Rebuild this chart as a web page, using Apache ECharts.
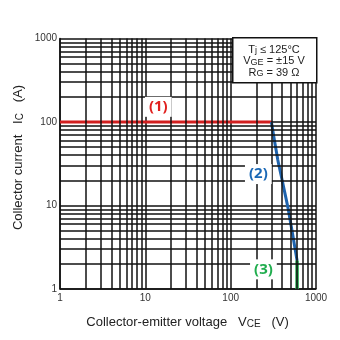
<!DOCTYPE html>
<html>
<head>
<meta charset="utf-8">
<script src="https://cdn.jsdelivr.net/npm/echarts@6/dist/echarts.min.js"></script>
<style>
  html, body { margin: 0; padding: 0; background: #fff; }
  #chart { width: 340px; height: 340px; }
</style>
</head>
<body>
<div id="chart"></div>
<script>
// Safe operating area: collector current vs collector-emitter voltage (log-log)
const decadeTicks = [1, 10, 100, 1000];
const minorGrid = [2, 3, 4, 5, 6, 7, 8, 9, 20, 30, 40, 50, 60, 70, 80, 90, 200, 300, 400, 500, 600, 700, 800, 900];

// (1) current limit
const seg1V = [1, 300];
const seg1I = [100, 100];
// (2) voltage-dependent limit
const seg2V = [300, 357, 390, 475, 600];
const seg2I = [100, 35, 23, 8.8, 2.2];
// (3) voltage limit
const seg3V = [600, 600];
const seg3I = [2.2, 1];

// label anchors (V, A)
const labelNames = ['(1)', '(2)', '(3)'];
const labelV = [14.2, 211, 242];
const labelI = [152, 23.8, 1.72];

const pairs = (xs, ys) => xs.map((x, i) => [x, ys[i]]);

const chart = echarts.init(document.getElementById('chart'), null, { renderer: 'canvas' });

const gridLineStyle = { color: '#111', width: 1.5, type: 'solid' };
const FONT = 'Liberation Sans, Arial, sans-serif';

const labelColors = ['#e0201e', '#1a68b6', '#20ad4e'];

const option = {
  animation: false,
  grid: { left: 60, right: 24, top: 38.5, bottom: 51, containLabel: false },
  xAxis: {
    type: 'log', logBase: 10, min: 1, max: 1000,
    axisLine: { show: true, lineStyle: { color: '#111', width: 1.5 } },
    axisTick: { show: false },
    splitLine: { show: true, lineStyle: gridLineStyle },
    minorSplitLine: { show: false },
    axisLabel: {
      color: '#333', fontSize: 10, fontFamily: FONT, margin: 4,
      formatter: v => decadeTicks.includes(Math.round(v)) ? String(Math.round(v)) : ''
    }
  },
  yAxis: {
    type: 'log', logBase: 10, min: 1, max: 1000,
    axisLine: { show: true, lineStyle: { color: '#111', width: 1.5 } },
    axisTick: { show: false },
    splitLine: { show: true, lineStyle: gridLineStyle },
    axisLabel: {
      color: '#333', fontSize: 10, fontFamily: FONT, margin: 3,
      formatter: v => decadeTicks.includes(Math.round(v)) ? String(Math.round(v)) : ''
    }
  },
  series: [
    {
      name: 'grid', type: 'line', data: [], z: 1, silent: true,
      markLine: {
        silent: true, symbol: ['none', 'none'], animation: false,
        label: { show: false },
        lineStyle: gridLineStyle,
        data: minorGrid.map(v => ({ xAxis: v })).concat(minorGrid.map(v => ({ yAxis: v })))
      }
    },
    {
      name: '(1)', type: 'line', data: pairs(seg1V, seg1I), z: 3,
      symbol: 'none', lineStyle: { color: '#d21f1f', width: 3 }
    },
    {
      name: '(2)', type: 'line', data: pairs(seg2V, seg2I), z: 3, smooth: 0.2,
      symbol: 'none', lineStyle: { color: '#1e63ad', width: 3 }
    },
    {
      name: '(3)', type: 'line', data: pairs(seg3V, seg3I), z: 3,
      symbol: 'none', lineStyle: { color: '#22ad4c', width: 3.5 }
    },
    {
      name: 'labels', type: 'scatter', z: 5, silent: true,
      symbolSize: 1, itemStyle: { color: 'rgba(0,0,0,0)', opacity: 1 },
      data: labelNames.map((n, i) => ({
        value: [labelV[i], labelI[i]],
        label: {
          show: true, position: 'inside', formatter: n, opacity: 1,
          color: labelColors[i], fontSize: 15, fontWeight: 'bold',
          fontFamily: 'Noto Sans, DejaVu Sans, sans-serif',
          backgroundColor: '#fff', padding: [3, 4, 2, 4],
          borderWidth: 0, textBorderWidth: 0, textBorderColor: 'transparent',
          textShadowBlur: 0, shadowBlur: 0
        }
      }))
    }
  ],
  graphic: [
    {
      type: 'rect', z: 100, left: 232, top: 37,
      shape: { width: 84, height: 45 },
      style: { fill: '#fff', stroke: '#111', lineWidth: 1.5 }
    },
    {
      type: 'text', z: 101, x: 274, y: 61,
      style: {
        text: '{m|T}{s|j}{m| ≤ 125°C}\n{m|V}{s|GE}{m| = ±15 V}\n{m|R}{s|G}{m| = 39 Ω}',
        align: 'center', verticalAlign: 'middle',
        fill: '#222', font: '11px ' + FONT,
        rich: {
          m: { fontSize: 11, fontFamily: FONT, lineHeight: 11.5, fill: '#222', verticalAlign: 'bottom' },
          s: { fontSize: 9, fontFamily: FONT, lineHeight: 11.5, fill: '#222', verticalAlign: 'bottom', padding: [3, 0, 0, 0] }
        }
      }
    },
    {
      type: 'text', z: 101, x: 187.5, y: 321,
      style: {
        text: '{m|Collector-emitter voltage   V}{s|CE}{m|   (V)}',
        align: 'center', verticalAlign: 'middle',
        fill: '#222',
        rich: {
          m: { fontSize: 13, fontFamily: FONT, fill: '#222', lineHeight: 16, verticalAlign: 'bottom' },
          s: { fontSize: 10, fontFamily: FONT, fill: '#222', lineHeight: 16, verticalAlign: 'bottom', padding: [4, 0, 0, 0] }
        }
      }
    },
    {
      type: 'text', z: 101, x: 17, y: 157.5, rotation: Math.PI / 2,
      style: {
        text: '{m|Collector current   I}{s|C}{m|   (A)}',
        align: 'center', verticalAlign: 'middle',
        fill: '#222',
        rich: {
          m: { fontSize: 13, fontFamily: FONT, fill: '#222', lineHeight: 16, verticalAlign: 'bottom' },
          s: { fontSize: 10, fontFamily: FONT, fill: '#222', lineHeight: 16, verticalAlign: 'bottom', padding: [4, 0, 0, 0] }
        }
      }
    }
  ]
};

chart.setOption(option);
</script>
</body>
</html>
